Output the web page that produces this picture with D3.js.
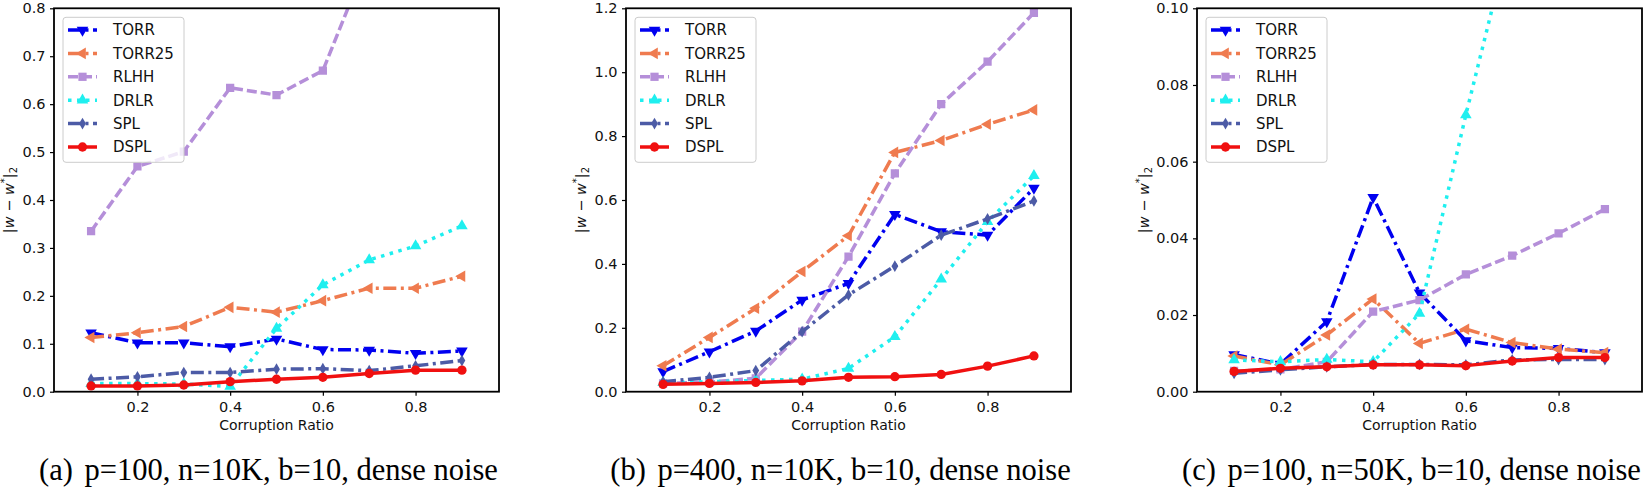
<!DOCTYPE html>
<html>
<head>
<meta charset="utf-8">
<script src="https://cdn.jsdelivr.net/npm/d3@7"></script>
<style>
  html, body { margin: 0; padding: 0; background: #fff; }
  svg { display: block; }
  .tick text { font-family: "DejaVu Sans", sans-serif; font-size: 14.5px; fill: #111; }
  .tick line { stroke: #000; stroke-width: 1.2; }
  .legend_text { font-family: "DejaVu Sans", sans-serif; font-size: 15px; fill: #111; }
  .x_label { font-family: "DejaVu Sans", sans-serif; font-size: 14px; fill: #111; }
  .y_label { font-family: "DejaVu Sans", sans-serif; font-size: 14.5px; fill: #111; }
  .caption { font-family: "Liberation Serif", "Times New Roman", serif; font-size: 30.5px; fill: #000; }
</style>
</head>
<body>
<script>
const ratios = [0.1, 0.2, 0.3, 0.4, 0.5, 0.6, 0.7, 0.8, 0.9]
const methods = ['TORR', 'TORR25', 'RLHH', 'DRLR', 'SPL', 'DSPL']
const xTicks = [0.2, 0.4, 0.6, 0.8]

// (a) p=100, n=10K
const torrA = [0.123, 0.102, 0.102, 0.094, 0.110, 0.088, 0.087, 0.080, 0.085]
const torr25A = [0.113, 0.123, 0.136, 0.176, 0.166, 0.190, 0.216, 0.216, 0.241]
const rlhhA = [0.335, 0.470, 0.501, 0.634, 0.619, 0.670, 0.91, 1.05, 1.2]
const drlrA = [0.017, 0.017, 0.016, 0.011, 0.132, 0.223, 0.275, 0.304, 0.346]
const splA = [0.026, 0.031, 0.040, 0.040, 0.047, 0.048, 0.044, 0.054, 0.065]
const dsplA = [0.012, 0.012, 0.014, 0.021, 0.026, 0.030, 0.038, 0.045, 0.045]
const yTicksA = [0, 0.1, 0.2, 0.3, 0.4, 0.5, 0.6, 0.7, 0.8]

// (b) p=400, n=10K
const torrB = [0.063, 0.125, 0.190, 0.287, 0.339, 0.555, 0.501, 0.490, 0.637]
const torr25B = [0.081, 0.170, 0.261, 0.376, 0.488, 0.749, 0.786, 0.837, 0.882]
const rlhhB = [0.026, 0.030, 0.042, 0.188, 0.423, 0.683, 0.900, 1.033, 1.186]
const drlrB = [0.028, 0.031, 0.035, 0.039, 0.073, 0.172, 0.352, 0.532, 0.676]
const splB = [0.031, 0.045, 0.066, 0.188, 0.303, 0.393, 0.490, 0.541, 0.597]
const dsplB = [0.023, 0.026, 0.029, 0.034, 0.045, 0.047, 0.054, 0.080, 0.112]
const yTicksB = [0, 0.2, 0.4, 0.6, 0.8, 1.0, 1.2]

// (c) p=100, n=50K
const torrC = [0.0097, 0.0072, 0.0183, 0.0507, 0.0258, 0.0133, 0.0115, 0.0113, 0.0102]
const torr25C = [0.0093, 0.0070, 0.0148, 0.0242, 0.0126, 0.0163, 0.0128, 0.0111, 0.0102]
const rlhhC = [0.0054, 0.0058, 0.0078, 0.0209, 0.0239, 0.0306, 0.0355, 0.0413, 0.0476]
const drlrC = [0.0083, 0.0078, 0.0084, 0.0078, 0.0204, 0.0722, 0.121, 0.16, 0.2]
const splC = [0.0048, 0.0057, 0.0065, 0.0071, 0.0071, 0.0070, 0.0083, 0.0084, 0.0084]
const dsplC = [0.0053, 0.0061, 0.0065, 0.0070, 0.0070, 0.0068, 0.0080, 0.0089, 0.0089]
const yTicksC = [0, 0.02, 0.04, 0.06, 0.08, 0.10]

const captionLabels = ['(a)', '(b)', '(c)']
const captionTexts = ['p=100, n=10K, b=10, dense noise', 'p=400, n=10K, b=10, dense noise', 'p=100, n=50K, b=10, dense noise']

const panels = [
    { series: [torrA, torr25A, rlhhA, drlrA, splA, dsplA], yMax: 0.8, yTicks: yTicksA, fmt: '.1f' },
    { series: [torrB, torr25B, rlhhB, drlrB, splB, dsplB], yMax: 1.2, yTicks: yTicksB, fmt: '.1f' },
    { series: [torrC, torr25C, rlhhC, drlrC, splC, dsplC], yMax: 0.10, yTicks: yTicksC, fmt: '.2f' }
]

const styles = {
    'TORR': { color: '#0000f0', dash: '13,4.5,3,4.5', symbol: d3.symbolTriangle, size: 58, rotate: 180 },
    'TORR25': { color: '#ef7b4f', dash: '13,4.5,3,4.5', symbol: d3.symbolTriangle, size: 58, rotate: -90 },
    'RLHH': { color: '#b58fd9', dash: '10,4', symbol: d3.symbolSquare, size: 68, rotate: 0 },
    'DRLR': { color: '#1fefef', dash: '3.5,5.5', symbol: d3.symbolTriangle, size: 58, rotate: 0 },
    'SPL': { color: '#4c5ba6', dash: '13,4.5,3,4.5', symbol: d3.symbolDiamond, size: 40, rotate: 0 },
    'DSPL': { color: '#f01010', dash: null, symbol: d3.symbolCircle, size: 68, rotate: 0 }
}

const width = 1645
const height = 487
const axLefts = [54, 626, 1197]
const axWidth = 445
const axTop = 8.3
const axBottom = 391.7
const lineWidth = 3.5

const svg = d3.select('body').append('svg')
    .attr('width', width).attr('height', height)
    .attr('xmlns', 'http://www.w3.org/2000/svg')

panels.forEach((panel, p) => {
    const left = axLefts[p]
    const x = d3.scaleLinear().domain([0.02, 0.98]).range([left, left + axWidth])
    const y = d3.scaleLinear().domain([0, panel.yMax]).range([axBottom, axTop])

    svg.append('clipPath').attr('id', `clip${p}`)
        .append('rect')
        .attr('x', left).attr('y', axTop)
        .attr('width', axWidth).attr('height', axBottom - axTop)

    const plot = svg.append('g').attr('clip-path', `url(#clip${p})`)
    const line = d3.line().x((d, i) => x(ratios[i])).y(d => y(d))

    methods.forEach((m, k) => {
        const st = styles[m]
        const values = panel.series[k]
        plot.append('path')
            .attr('d', line(values))
            .attr('fill', 'none')
            .attr('stroke', st.color)
            .attr('stroke-width', lineWidth)
            .attr('stroke-dasharray', st.dash)
            .attr('stroke-linejoin', 'round')
        plot.selectAll(null).data(values).enter().append('path')
            .attr('d', d3.symbol(st.symbol, st.size))
            .attr('transform', (d, i) => `translate(${x(ratios[i])},${y(d)}) rotate(${st.rotate})`)
            .attr('fill', st.color)
    })

    // axes
    const yAxis = svg.append('g').attr('transform', `translate(${left},0)`)
        .call(d3.axisLeft(y).tickValues(panel.yTicks).tickFormat(d3.format(panel.fmt)).tickSize(4).tickPadding(4.5))
    yAxis.select('.domain').remove()
    const xAxis = svg.append('g').attr('transform', `translate(0,${axBottom})`)
        .call(d3.axisBottom(x).tickValues(xTicks).tickFormat(d3.format('.1f')).tickSize(4).tickPadding(6))
    xAxis.select('.domain').remove()
    svg.selectAll('.tick text').attr('font-family', null).attr('font-size', null)

    svg.append('rect')
        .attr('x', left).attr('y', axTop)
        .attr('width', axWidth).attr('height', axBottom - axTop)
        .attr('fill', 'none').attr('stroke', '#000').attr('stroke-width', 1.8)

    // y label |w - w*|_2
    const labelWidth = d3.format(panel.fmt)(panel.yTicks[0]).length === 3 ? 22.3 : 31
    const ylab = svg.append('text').attr('class', 'y_label')
        .attr('transform', `translate(${left - 8.5 - labelWidth - 14},${(axTop + axBottom) / 2}) rotate(-90)`)
        .attr('text-anchor', 'middle')
        .attr('dy', '0.35em')
    ylab.append('tspan').text('|')
    ylab.append('tspan').attr('font-style', 'italic').text('w')
    ylab.append('tspan').text(' − ')
    ylab.append('tspan').attr('font-style', 'italic').text('w')
    ylab.append('tspan').attr('font-size', '10px').attr('dy', -6).text('*')
    ylab.append('tspan').attr('dy', 6).text('|')
    ylab.append('tspan').attr('font-size', '10px').attr('dy', 3).text('2')

    svg.append('text').attr('class', 'x_label')
        .attr('x', left + axWidth / 2).attr('y', 430)
        .attr('text-anchor', 'middle')
        .text('Corruption Ratio')

    // legend
    const lg = svg.append('g').attr('transform', `translate(${left + 9},${axTop + 9})`)
    lg.append('rect')
        .attr('width', 121).attr('height', 145).attr('rx', 3)
        .attr('fill', '#fff').attr('fill-opacity', 0.8)
        .attr('stroke', '#cccccc').attr('stroke-width', 1)
    methods.forEach((m, k) => {
        const st = styles[m]
        const ry = 12.7 + k * 23.4
        lg.append('line')
            .attr('x1', 5).attr('x2', 34).attr('y1', ry).attr('y2', ry)
            .attr('stroke', st.color).attr('stroke-width', lineWidth)
            .attr('stroke-dasharray', st.dash)
        lg.append('path')
            .attr('d', d3.symbol(st.symbol, st.size))
            .attr('transform', `translate(19.5,${ry}) rotate(${st.rotate})`)
            .attr('fill', st.color)
        lg.append('text').attr('class', 'legend_text')
            .attr('x', 50).attr('y', ry).attr('dy', '0.36em')
            .text(m)
    })

    // caption
    const cap = svg.append('text').attr('class', 'caption')
        .attr('x', left + axWidth / 2 - 8).attr('y', 480)
        .attr('text-anchor', 'middle')
    cap.append('tspan').text(captionLabels[p])
    cap.append('tspan').attr('dx', 4).text(' ' + captionTexts[p])
})
</script>
</body>
</html>
